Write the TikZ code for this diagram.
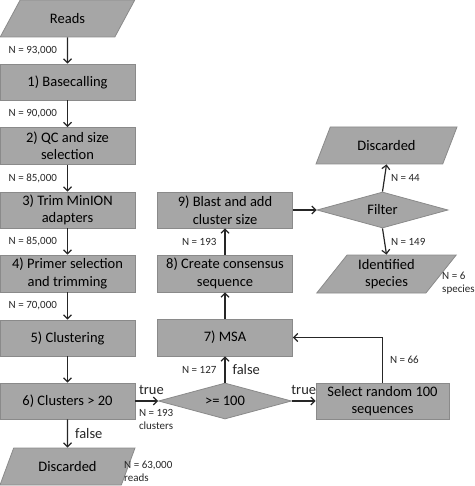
\documentclass[tikz,border=0pt]{standalone}
\usepackage{fontspec}
\setmainfont{Carlito}
\usetikzlibrary{shapes.geometric,arrows.meta}
\definecolor{boxgray}{HTML}{A6A6A6}
\definecolor{boxline}{HTML}{8A8A8A}
\definecolor{inkgray}{HTML}{262626}
\newcommand{\bigtxt}{\fontsize{14.5}{17.5}\selectfont}
\newcommand{\smalltxt}{\fontsize{11}{13}\selectfont}
\tikzset{
  proc/.style={rectangle, draw=boxline, fill=boxgray, line width=0.8pt,
    minimum width=135pt, minimum height=36pt, inner sep=0pt, align=center, font=\bigtxt},
  io/.style={trapezium, trapezium left angle=54, trapezium right angle=126,
    trapezium stretches=true, draw=boxline, fill=boxgray, line width=0.8pt,
    minimum width=135pt, minimum height=37pt, inner sep=0pt, align=center, font=\bigtxt},
  decide/.style={diamond, aspect=3.6, draw=boxline, fill=boxgray, line width=0.8pt,
    minimum width=133pt, minimum height=36pt, inner sep=0pt, font=\bigtxt},
  flow/.style={-{Straight Barb[length=4pt,width=8pt]}, line width=1.2pt, draw=inkgray},
  nlabel/.style={font=\smalltxt, text=inkgray, inner sep=0pt, align=left},
  yesno/.style={font=\bigtxt, text=inkgray, inner sep=0pt}
}

\begin{document}
\begin{tikzpicture}[x=1pt,y=-1pt]
\useasboundingbox (0,0) rectangle (474,486);
% left column
\node[io] (reads) at (67.5,18.5) {Reads};
\node[proc] (basecall) at (67.5,82) {1) Basecalling};
\node[proc,minimum height=37pt] (qc) at (67.5,146) {2) QC and size\\selection};
\node[proc] (trim) at (67.5,210) {3) Trim MinION\\adapters};
\node[proc,minimum height=37pt] (primer) at (67.5,273.5) {4) Primer selection\\and trimming};
\node[proc] (cluster) at (67.5,338) {5) Clustering};
\node[proc] (bigcl) at (67.5,401) {6) Clusters > 20};
\node[io] (discbot) at (67.5,466.5) {Discarded};
% right column
\node[decide] (hundred) at (225,401) {>= 100};
\node[proc,minimum width=133pt] (select) at (382.5,401) {Select random 100\\sequences};
\node[proc,minimum height=37pt] (msa) at (225,337.5) {7) MSA};
\node[proc,minimum height=37pt] (consensus) at (225,273.5) {8) Create consensus\\sequence};
\node[proc] (blast) at (225,210) {9) Blast and add\\cluster size};
\node[decide,minimum width=131pt] (filter) at (382.5,210) {Filter};
\node[io,minimum width=141pt] (disctop) at (386.5,145.5) {Discarded};
\node[io,minimum width=141pt,minimum height=38pt] (species) at (386.5,274) {Identified\\species};
% counts beside the boxes
\node[nlabel,anchor=north west] (readsn) at (124,461) {N = 63,000\\reads};
\node[nlabel,anchor=north west] (speciesn) at (442,272) {N = 6\\species};
% pipeline
\draw[flow] (reads.south) -- (basecall.north) node[nlabel,midway,anchor=east,xshift=-10pt]{N = 93,000};
\draw[flow] (basecall) -- (qc) node[nlabel,midway,anchor=east,xshift=-10pt]{N = 90,000};
\draw[flow] (qc) -- (trim) node[nlabel,midway,anchor=east,xshift=-10pt]{N = 85,000};
\draw[flow] (trim) -- (primer) node[nlabel,midway,anchor=east,xshift=-10pt]{N = 85,000};
\draw[flow] (primer) -- (cluster) node[nlabel,midway,anchor=east,xshift=-10pt]{N = 70,000};
\draw[flow] (cluster) -- (bigcl);
\draw[flow] (bigcl.south) -- (discbot.north) node[yesno,midway,anchor=west,xshift=7pt]{false};
\draw[flow] (bigcl.east) -- (hundred.west) node[yesno,pos=0,anchor=south west,xshift=3pt,yshift=6pt]{true}
  node[nlabel,pos=0,anchor=north west,xshift=3pt,yshift=-8pt]{N = 193\\clusters};
% size check
\draw[flow] (hundred.east) -- (select.west) node[yesno,midway,anchor=south,yshift=6pt]{true};
\draw[flow] (hundred.north) -- (msa.south) node[nlabel,midway,anchor=east,xshift=-8pt]{N = 127}
  node[yesno,midway,anchor=west,xshift=7pt]{false};
\draw[flow] (select.north) |- (msa.east) node[nlabel,pos=0.25,anchor=west,xshift=7pt]{N = 66};
\draw[flow] (msa) -- (consensus);
\draw[flow] (consensus) -- (blast) node[nlabel,midway,anchor=east,xshift=-8pt]{N = 193};
% filter
\draw[flow] (blast.east) -- (filter.west);
\draw[flow] (filter.north) -- (disctop.south) node[nlabel,midway,anchor=west,xshift=6pt]{N = 44};
\draw[flow] (filter.south) -- (species.north) node[nlabel,midway,anchor=west,xshift=6pt]{N = 149};
\end{tikzpicture}
\end{document}
